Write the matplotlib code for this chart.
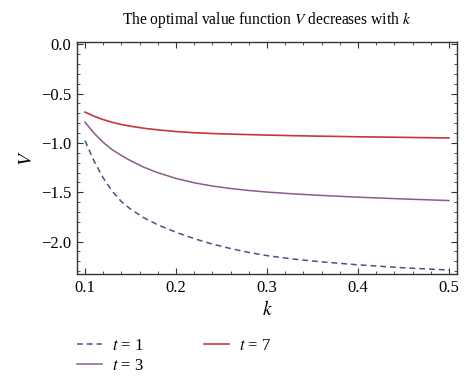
import matplotlib
matplotlib.use("Agg")
import matplotlib.pyplot as plt
from matplotlib.ticker import MultipleLocator

plt.rcParams['font.family'] = ['Liberation Serif', 'DejaVu Serif']
plt.rcParams['mathtext.fontset'] = 'stix'

k = [0.10, 0.11, 0.12, 0.13, 0.14, 0.15, 0.165, 0.18, 0.20, 0.22, 0.24, 0.26, 0.28,
     0.30, 0.33, 0.36, 0.40, 0.45, 0.50]
v_t1 = [-0.978, -1.185, -1.355, -1.49, -1.595, -1.67, -1.76, -1.83, -1.905, -1.97, -2.025,
        -2.07, -2.11, -2.142, -2.178, -2.205, -2.235, -2.265, -2.288]
v_t3 = [-0.79, -0.902, -0.995, -1.07, -1.128, -1.18, -1.248, -1.302, -1.36, -1.404, -1.437,
        -1.462, -1.482, -1.498, -1.517, -1.532, -1.55, -1.568, -1.584]
v_t7 = [-0.688, -0.73, -0.764, -0.792, -0.814, -0.831, -0.852, -0.868, -0.885, -0.897, -0.905,
        -0.911, -0.916, -0.921, -0.927, -0.932, -0.938, -0.944, -0.95]
labels = ['$t$ = 1', '$t$ = 3', '$t$ = 7']

fig = plt.figure(figsize=(4.74, 3.87), dpi=100)
ax = fig.add_axes([77 / 474, 1 - 274 / 387, 380 / 474, 232 / 387])

l1, = ax.plot(k, v_t1, color='#4b5083', lw=1.1, dashes=(3.8, 2.6), label=labels[0])
l3, = ax.plot(k, v_t3, color='#8a5b8b', lw=1.1, label=labels[1])
l7, = ax.plot(k, v_t7, color='#c8363c', lw=1.2, label=labels[2])

ax.set_xlim(0.0912, 0.5088)
ax.set_ylim(-2.328, 0.022)
ax.xaxis.set_minor_locator(MultipleLocator(0.02))
ax.yaxis.set_minor_locator(MultipleLocator(0.1))
ax.set_xticks([0.1, 0.2, 0.3, 0.4, 0.5])
ax.set_xticklabels(['0.1', '0.2', '0.3', '0.4', '0.5'])
ax.set_yticks([0.0, -0.5, -1.0, -1.5, -2.0])
ax.set_yticklabels(['0.0', '\u22120.5', '\u22121.0', '\u22121.5', '\u22122.0'])
ax.tick_params(which='both', direction='in', top=True, right=True, labelsize=12, color='#333333')
ax.tick_params(which='major', length=4, width=0.8, pad=4)
ax.tick_params(which='minor', length=2, width=0.6)
for s in ax.spines.values():
    s.set_linewidth(1.0)
    s.set_color('#333333')

ax.set_xlabel('$k$', fontsize=14, labelpad=3)
ax.set_ylabel('$V$', fontsize=14, labelpad=4)
ax.set_title('The optimal value function $V$ decreases with $k$', fontsize=11.2, pad=13)

fig.legend(handles=[l1, l3, l7], labels=labels, ncol=2, loc='upper left',
           bbox_to_anchor=(77 / 474, 1 - 338 / 387), frameon=False, fontsize=12,
           borderpad=0, borderaxespad=0,
           handlelength=1.5, columnspacing=3.6, labelspacing=0.25, handletextpad=0.6)

fig.savefig('out.png', dpi=100)
